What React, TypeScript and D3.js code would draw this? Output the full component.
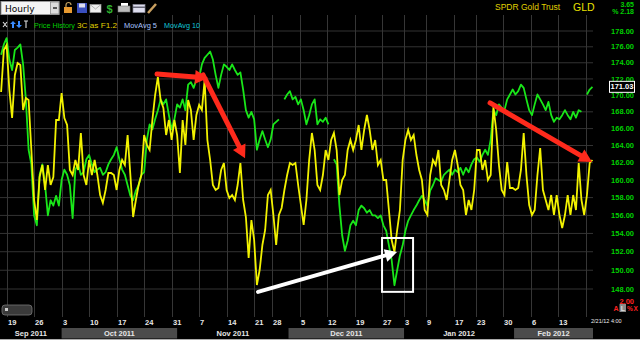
import React from 'react';
import * as d3 from 'd3';

const W = 640;
const H = 340;

// ---- axis ticks ----
const dayTickLabels = ['19','26','3','10','17','24','31','7','14','21','28','5','12','19','27','3','9','17','23','30','6','13'];
const dayTickIndex = [0,5,10,15,20,25,30,35,40,45,48.25,53.25,58.25,63.25,68.25,72.25,76.25,81.25,85.25,90.25,95.25,100.25];
const lastBarDay = 105.25;
const lastBarLabel = '2/21/12 4:00';
const monthLabels = ['Sep 2011','Oct 2011','Nov 2011','Dec 2011','Jan 2012','Feb 2012'];
const monthStart = [-1.2, 10, 31, 51.25, 72.25, 92.25];
const monthEnd = [10, 31, 51.25, 72.25, 92.25, 106.6];
const monthShaded = [false, true, false, true, false, true];
const priceTicks = [148,150,152,154,156,158,160,162,164,166,168,170,172,174,176,178];

// ---- legend ----
const legendLabels = ['Price History', '3C as F1.2', 'MovAvg 5', 'MovAvg 10'];
const legendColors = ['#00cc00', '#e0d200', '#a8c4ff', '#10c8d8'];

// ---- series (sampled every half trading day, starting one day before Sep 19) ----
const seriesStartDay = -1;
const seriesStep = 0.5;
const priceHistory: (number | null)[] = [
  175.0,176.3,177.1,174.4,173.1,175.6,175.9,176.3,173.8,169.5,
  163.5,161.8,156.0,154.9,160.6,161.8,159.4,156.0,157.7,157.1,
  158.2,157.1,160.0,161.2,160.6,159.4,155.7,161.2,161.8,160.6,
  160.9,162.4,162.9,161.8,160.9,161.2,161.4,160.6,160.9,161.8,
  162.4,162.9,163.8,162.4,161.2,160.6,159.4,158.2,157.7,158.8,
  159.4,160.6,160.9,164.7,166.5,165.9,167.1,168.2,169.5,168.9,
  169.5,167.6,165.9,167.1,168.9,168.5,169.5,168.2,171.3,171.6,
  170.9,171.9,172.1,173.8,174.6,175.0,175.4,174.4,172.5,170.9,
  172.5,173.8,173.5,173.1,173.8,173.1,172.5,172.8,170.7,168.2,
  167.3,168.0,167.1,163.5,164.7,165.7,164.7,163.8,164.7,166.5,
  166.8,167.1,null,169.5,170.1,170.5,169.5,169.8,168.9,169.5,
  168.2,166.5,167.6,168.9,169.5,166.5,167.1,166.8,167.3,166.5,
  null,162.4,161.8,157.1,153.8,152.1,153.2,154.9,155.4,154.9,
  156.6,157.1,156.8,156.3,156.6,156.0,156.0,155.7,156.0,154.9,
  154.3,152.7,151.1,148.4,150.0,151.6,152.7,154.3,155.4,156.0,
  156.6,157.1,157.7,158.2,157.7,157.1,158.8,159.4,160.2,160.0,
  159.8,160.6,160.9,161.2,160.6,161.2,160.9,161.4,160.6,161.4,
  160.9,161.8,162.4,162.6,162.1,162.9,163.5,162.9,164.7,168.2,
  167.6,168.9,168.5,168.2,169.5,170.1,170.7,170.1,170.5,171.3,
  170.9,169.5,168.2,167.6,168.9,170.1,169.5,168.9,168.2,169.2,
  167.6,166.8,167.3,167.1,167.6,168.2,167.6,167.1,168.0,167.3,
  168.2,168.0,null,170.1,170.7,171.03,
];
const threeC: number[] = [
  99,120,122.5,100,86,107.5,113.5,112.5,90,96,
  95,70,45,35,56.5,62.5,50,62.5,52.5,56.5,
  85,85,98.5,86,82.5,60,57.5,65,60,78.5,
  57.5,52.5,65,57.5,65,57.5,47.5,43.5,50,58.5,
  58.5,57.5,50,60,65,62.5,77.5,57.5,36.5,45,
  52.5,57.5,77.5,72.5,70,85,97.5,106.5,95,91,
  77.5,85,75,85,77.5,58.5,85,72.5,95,90,
  75,87.5,92.5,90,105,75,65,52.5,50,51,
  60,63.5,50,46,47.5,45,52.5,63.5,45,36.5,
  16,35,25,2.5,10,22.5,30,47.5,50,37.5,
  22.5,37.5,41,50,57.5,63.5,62.5,63.5,52.5,42.5,
  32.5,45,65,78.5,70,52.5,50,57.5,70,65,
  75,78.5,70,47.5,55,57.5,70,75,70,75,
  82.5,70,80,87.5,80,70,75,62.5,65,55,
  55,40,25,19,30,40,65,75,80,75,
  77.5,67.5,60,55,40,37.5,57.5,65,62.5,70,
  52.5,50,45,55,65,70,62.5,52.5,50,37.5,
  45,40,50,70,70,60,65,55,57.5,91.5,
  80,62.5,50,47.5,64,51,51,50,51,60,
  78.5,57.5,42.5,37.5,40,57.5,71,50,45,40,
  47.5,37.5,47.5,37.5,31,37.5,47.5,37.5,47.5,40,
  63.5,45,37.5,47.5,63.5,65,
];
const lastPrice = 171.03;

// ---- annotations (day index, price) ----
const redArrowFromDay = [27.35, 35.71, 87.89];
const redArrowFromPrice = [172.6, 172.5, 169.07];
const redArrowToDay = [36.62, 43.35, 106.44];
const redArrowToPrice = [172.1, 162.5, 162.07];
const whiteArrowFromDay = 45.71;
const whiteArrowFromPrice = 147.7;
const whiteArrowToDay = 70.98;
const whiteArrowToPrice = 151.96;
const boxDays = [68.25, 73.89];
const boxPrices = [153.5, 147.7];

const FONT = "'Liberation Sans', Arial, sans-serif";

function arrowParts(x1: number, y1: number, x2: number, y2: number, L: number, w: number) {
  const dx = x2 - x1, dy = y2 - y1;
  const d = Math.sqrt(dx * dx + dy * dy);
  const ux = dx / d, uy = dy / d;
  const bx = x2 - ux * L, by = y2 - uy * L;
  const pts = `${x2},${y2} ${bx - uy * w},${by + ux * w} ${bx + uy * w},${by - ux * w}`;
  return { bx, by, pts };
}

export default function App() {
  const x = d3.scaleLinear().domain([-1.2, 106.6]).range([0, 593]);
  const y = d3.scaleLog().domain([148, 178]).range([289, 31]);
  const y3c = d3.scaleLinear().domain([0, 130]).range([290, 30]);
  const dayOf = (i: number) => seriesStartDay + i * seriesStep;
  const plotTop = 15, plotBottom = 317, plotRight = 593;

  const priceLine = d3.line<number | null>()
    .defined((d) => d != null)
    .x((_, i) => x(dayOf(i)))
    .y((d) => y(d as number));
  const cLine = d3.line<number>()
    .x((_, i) => x(dayOf(i)))
    .y((d) => y3c(d));

  const gridDays = [...dayTickIndex, lastBarDay];
  const legendX = [34, 77, 124, 164];
  const legendW = [41, 40, 33, 36];

  const red = '#ff2a1c';

  return (
    <svg width={W} height={H} style={{ position: 'absolute', left: 0, top: 0, background: '#000' }}>
      <rect x={0} y={0} width={W} height={H} fill="#000" />
      {/* grid */}
      {priceTicks.map((p) => (
        <line key={'h' + p} x1={0} x2={plotRight} y1={y(p)} y2={y(p)} stroke="#333" strokeWidth={1} />
      ))}
      {gridDays.map((d, i) => (
        <line key={'v' + i} x1={Math.round(x(d)) + 0.5} x2={Math.round(x(d)) + 0.5} y1={plotTop} y2={plotBottom} stroke="#363636" strokeWidth={1} />
      ))}

      {/* series */}
      <path d={priceLine(priceHistory) || ''} fill="none" stroke="#19e619" strokeWidth={1.8} strokeLinejoin="round" />
      <path d={cLine(threeC) || ''} fill="none" stroke="#f2f200" strokeWidth={1.8} strokeLinejoin="miter" />

      {/* annotations */}
      {redArrowFromDay.map((d, i) => {
        const x1 = x(d), y1 = y(redArrowFromPrice[i]);
        const x2 = x(redArrowToDay[i]), y2 = y(redArrowToPrice[i]);
        const a = arrowParts(x1, y1, x2, y2, 13, 7);
        return (
          <g key={'ra' + i}>
            <line x1={x1} y1={y1} x2={a.bx} y2={a.by} stroke={red} strokeWidth={5} strokeLinecap="round" />
            <polygon points={a.pts} fill={red} />
          </g>
        );
      })}
      {(() => {
        const x1 = x(whiteArrowFromDay), y1 = y(whiteArrowFromPrice);
        const x2 = x(whiteArrowToDay), y2 = y(whiteArrowToPrice);
        const a = arrowParts(x1, y1, x2, y2, 12, 6.5);
        return (
          <g>
            <line x1={x1} y1={y1} x2={a.bx} y2={a.by} stroke="#fff" strokeWidth={4} strokeLinecap="round" />
            <polygon points={a.pts} fill="#fff" />
          </g>
        );
      })()}
      <rect x={x(boxDays[0])} y={y(boxPrices[0])} width={x(boxDays[1]) - x(boxDays[0])} height={y(boxPrices[1]) - y(boxPrices[0])} fill="none" stroke="#fff" strokeWidth={2} />

      {/* right axis labels */}
      {priceTicks.map((p) => (
        <text key={'pl' + p} x={634} y={y(p)} dy="0.35em" textAnchor="end" fill="#00d000" fontSize={7.5} fontWeight="bold" fontFamily={FONT}>
          {p.toFixed(2)}
        </text>
      ))}
      <rect x={609.5} y={y(lastPrice) - 5.5} width={25} height={11} fill="#000" stroke="#fff" strokeWidth={1} />
      <text x={622} y={y(lastPrice)} dy="0.35em" textAnchor="middle" fill="#fff" fontSize={7.5} fontWeight="bold" fontFamily={FONT}>
        {lastPrice.toFixed(2)}
      </text>
      <text x={634} y={304} textAnchor="end" fill="#ff2020" fontSize={7.5} fontWeight="bold" fontFamily={FONT}>2.00</text>
      <text x={613.5} y={311} fill="#ff2020" fontSize={7} fontWeight="bold" fontFamily={FONT}>A</text>
      <rect x={619.5} y={304} width={6.5} height={8} fill="#8a8a8a" />
      <text x={620.8} y={311} fill="#ddd" fontSize={7} fontWeight="bold" fontFamily={FONT}>L</text>
      <text x={627} y={311} fill="#ff2020" fontSize={6.5} fontWeight="bold" fontFamily={FONT}>%</text>
      <text x={633.5} y={311} fill="#ff2020" fontSize={6.5} fontWeight="bold" fontFamily={FONT}>X</text>

      {/* bottom axis */}
      {dayTickIndex.map((d, i) => (
        <text key={'dl' + i} x={Math.round(x(d)) + 1} y={325} fill="#e8e8e8" fontSize={7.5} fontWeight="bold" fontFamily={FONT}>
          {dayTickLabels[i]}
        </text>
      ))}
      <text x={Math.round(x(lastBarDay)) + 5} y={323} fill="#eee" fontSize={5.5} fontFamily={FONT}>{lastBarLabel}</text>
      {monthLabels.map((m, i) => (
        <g key={'m' + i}>
          {monthShaded[i] && (
            <rect x={x(monthStart[i])} y={328} width={x(monthEnd[i]) - x(monthStart[i])} height={10.5} fill="#4b4b4b" />
          )}
          <text x={(x(monthStart[i]) + x(monthEnd[i])) / 2} y={336} textAnchor="middle" fill="#e6e6e6" fontSize={7.5} fontWeight="bold" fontFamily={FONT}>
            {m}
          </text>
        </g>
      ))}
      <line x1={0} x2={W} y1={339.5} y2={339.5} stroke="#aaa" strokeWidth={1} />
      <rect x={2} y={305} width={30} height={10} rx={3} fill="#3a3a3a" stroke="#777" strokeWidth={0.8} />
      <rect x={5} y={308} width={3} height={3} fill="#ccc" />

      {/* toolbar */}
      <rect x={1} y={1.5} width={58} height={13} fill="#f4f4f4" stroke="#999" />
      <text x={5} y={11.5} fill="#000" fontSize={9} fontFamily="'DejaVu Sans', sans-serif">Hourly</text>
      <rect x={50.5} y={2} width={8.5} height={12} fill="#dcdcdc" stroke="#888" strokeWidth={0.8} />
      <line x1={53} x2={57} y1={8} y2={8} stroke="#000" strokeWidth={1.2} />
      <path d="M66,7 v-2 a2.5,2.5 0 0 1 5,0" fill="none" stroke="#c0a060" strokeWidth={1.2} />
      <rect x={64} y={7} width={8} height={6} fill="#e89a30" />
      <rect x={77} y={3} width={10} height={10} fill="#3a4fbf" />
      <rect x={79} y={3.5} width={6} height={4} fill="#dde" />
      <rect x={90} y={4.5} width={11} height={8} fill="#eee" stroke="#999" strokeWidth={0.7} />
      <path d="M90,4.5 L95.5,9 L101,4.5" fill="none" stroke="#999" strokeWidth={0.7} />
      <text x={106.5} y={13} fill="#2fb02f" fontSize={11} fontWeight="bold" fontFamily={FONT}>$</text>
      <rect x={121} y={3} width={7} height={4} fill="#fff" />
      <rect x={118} y={6} width={12} height={6} fill="#bbb" stroke="#777" strokeWidth={0.6} />
      <rect x={133} y={4.5} width={12} height={8} fill="#dde" stroke="#889" strokeWidth={0.7} />
      <rect x={133} y={6.5} width={12} height={1.5} fill="#667" />
      <line x1={148} y1={13} x2={156} y2={4} stroke="#c9a060" strokeWidth={2.5} />

      {/* legend */}
      <path d="M3,22 l4,5 M7,22 l-4,5" stroke="#ddd" strokeWidth={1.1} />
      <path d="M12,28 v-4 h-2 l3,-3 l3,3 h-2 v4 z" fill="#3a8cff" />
      <path d="M18,21 v4 h-2 l3,3 l3,-3 h-2 v-4 z" fill="#3a8cff" />
      <path d="M24,21 h4 M26,21 v7" stroke="#ddd" strokeWidth={1.1} />
      {legendLabels.map((l, i) => (
        <text key={'lg' + i} x={legendX[i]} y={27.5} fill={legendColors[i]} fontSize={7.5} fontFamily={FONT}
          textLength={legendW[i]} lengthAdjust="spacingAndGlyphs">{l}</text>
      ))}

      {/* title */}
      <text x={495} y={10} fill="#e0d000" fontSize={8.5} fontFamily={FONT}>SPDR Gold Trust</text>
      <text x={573} y={11} fill="#e8e000" fontSize={10.5} fontFamily={FONT}>GLD</text>
      <text x={634} y={6.5} textAnchor="end" fill="#00d000" fontSize={7} fontWeight="bold" fontFamily={FONT}>3.65</text>
      <text x={634} y={14} textAnchor="end" fill="#00d000" fontSize={7} fontWeight="bold" fontFamily={FONT}>% 2.18</text>
    </svg>
  );
}
